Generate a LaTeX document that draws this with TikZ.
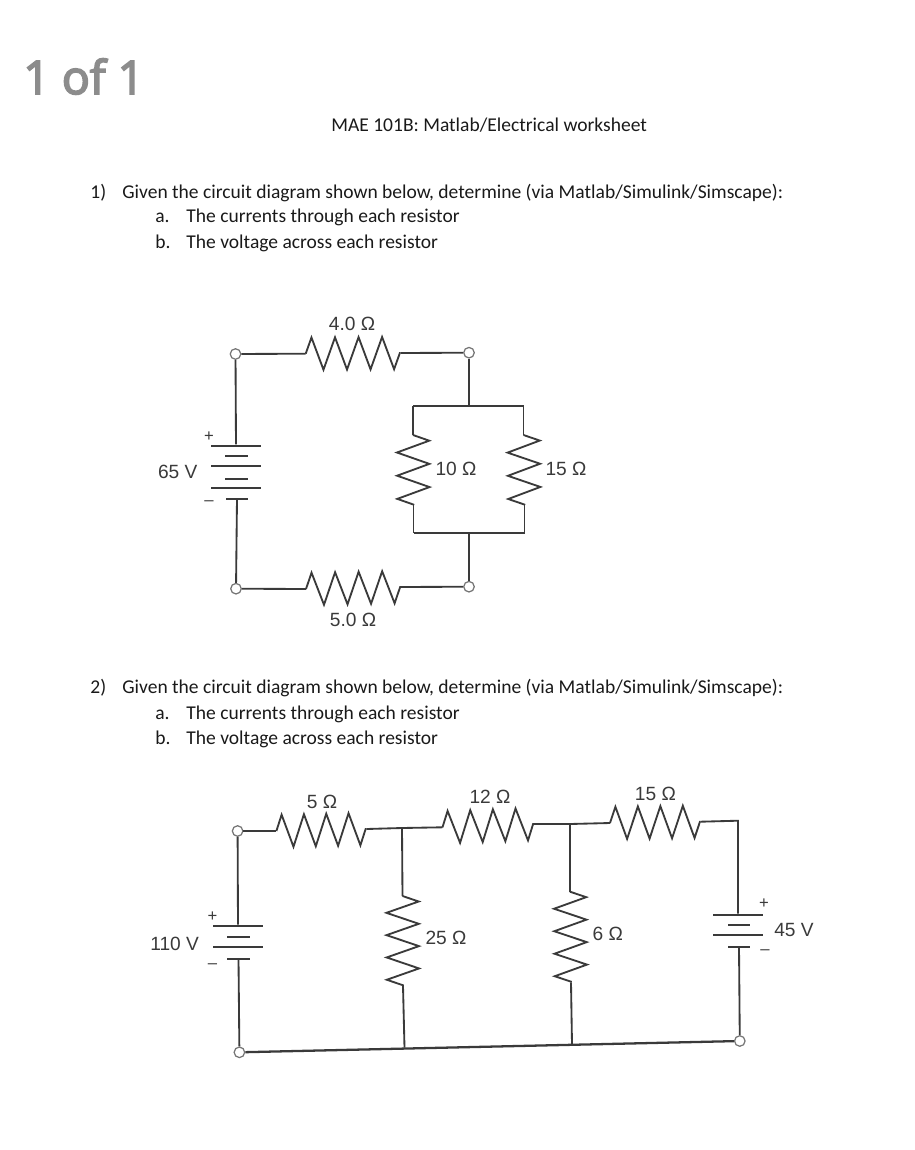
\documentclass[tikz,border=0pt]{standalone}
\usepackage{fontspec}
\setmainfont{Carlito}
\newfontfamily\scanfont{Liberation Sans}
\newfontfamily\pagefont[FakeBold=3.6]{Open Sans}
\usetikzlibrary{decorations.pathmorphing}

\definecolor{inkgray}{HTML}{3A3A3A}
\definecolor{stampgray}{HTML}{8C8C8C}

\tikzset{
  wire/.style={draw=inkgray, line width=1.05pt},
  res/.style={wire, decorate, decoration={zigzag, amplitude=9.2pt, segment length=#1}},
  terminal/.style={draw=inkgray!70, fill=white, circle, inner sep=0pt, minimum size=6pt, line width=0.7pt},
  longplate/.style={fill=inkgray, inner sep=0pt, minimum width=29pt, minimum height=1.2pt},
  shortplate/.style={fill=inkgray, inner sep=0pt, minimum width=13pt, minimum height=1.2pt},
  val/.style={text=inkgray, font=\scanfont\fontsize{10.9pt}{12pt}\selectfont, inner sep=0pt},
  sign/.style={text=inkgray, font=\scanfont\fontsize{9.5pt}{10pt}\selectfont, inner sep=0pt},
  sheet/.style={text=black!90, font=\fontsize{11.12pt}{13pt}\selectfont, inner sep=0pt, anchor=base west}
}

\begin{document}
\begin{tikzpicture}[x=0.02cm, y=-0.02cm]
      \useasboundingbox (0, 0) rectangle (914, 1150);
      % Page text
      \node[text=stampgray, font=\pagefont\fontsize{26.4pt}{30pt}\selectfont, inner sep=0pt, anchor=base west] (stamp) at (23, 94) {1 of 1};
      \node[sheet] (title) at (331, 131.5) {MAE 101B: Matlab/Electrical worksheet};
      \node[sheet] (qa) at (90, 198) {1)};
      \node[sheet] (qatext) at (122, 198) {Given the circuit diagram shown below, determine (via Matlab/Simulink/Simscape):};
      \node[sheet] (qaa) at (155, 222) {a.};
      \node[sheet] (qaatext) at (186, 222) {The currents through each resistor};
      \node[sheet] (qab) at (155, 248) {b.};
      \node[sheet] (qabtext) at (186, 248) {The voltage across each resistor};
      \node[sheet] (qb) at (90, 693) {2)};
      \node[sheet] (qbtext) at (122, 693) {Given the circuit diagram shown below, determine (via Matlab/Simulink/Simscape):};
      \node[sheet] (qba) at (155, 719) {a.};
      \node[sheet] (qbatext) at (186, 719) {The currents through each resistor};
      \node[sheet] (qbb) at (155, 744) {b.};
      \node[sheet] (qbbtext) at (186, 744) {The voltage across each resistor};

      % First circuit: terminals
      \node[terminal] (tl) at (235.5, 354) {};
      \node[terminal] (tr) at (469, 352.7) {};
      \node[terminal] (bl) at (236, 588.7) {};
      \node[terminal] (br) at (469, 586.7) {};
      % First circuit: battery
      \node[longplate] (ba) at (236, 445.7) {};
      \node[shortplate] (bb) at (236.5, 456) {};
      \node[longplate] (bc) at (236, 466) {};
      \node[shortplate] (bd) at (236.5, 478.7) {};
      \node[longplate] (be) at (236, 487.7) {};
      \node[shortplate] (bf) at (237, 498.7) {};
      % First circuit: corners and resistor ends
      \coordinate (ra) at (305.7, 353.7);
      \coordinate (rb) at (400.7, 353);
      \coordinate (rc) at (306, 589);
      \coordinate (rd) at (401, 587);
      \coordinate (pt) at (469, 405.7);
      \coordinate (pb) at (469, 532.7);
      \coordinate (plt) at (413, 405.7);
      \coordinate (prt) at (523.5, 405.7);
      \coordinate (plb) at (413.5, 532.7);
      \coordinate (prb) at (524.5, 532.7);
      \coordinate (lra) at (413, 435);
      \coordinate (lrb) at (413.5, 505);
      \coordinate (rra) at (523.5, 435);
      \coordinate (rrb) at (524.5, 505);
      % First circuit: wires
      \draw[wire] (tl) -- (ra);
      \draw[res=13.4pt] (ra) -- (rb);
      \draw[wire] (rb) -- (tr);
      \draw[wire] (tl) -- (ba);
      \draw[wire] (bf) -- (bl);
      \draw[wire] (bl) -- (rc);
      \draw[res=13.4pt] (rc) -- (rd);
      \draw[wire] (rd) -- (br);
      \draw[wire] (tr) -- (pt);
      \draw[wire] (br) -- (pb);
      \draw[wire] (plt) -- (prt);
      \draw[wire] (plb) -- (prb);
      \draw[wire] (plt) -- (lra);
      \draw[res=13.2pt] (lra) -- (lrb);
      \draw[wire] (lrb) -- (plb);
      \draw[wire] (prt) -- (rra);
      \draw[res=13.2pt] (rra) -- (rrb);
      \draw[wire] (rrb) -- (prb);
      % First circuit: labels
      \node[val] (lra val) at (352, 324) {4.0 Ω};
      \node[val] (lrc val) at (353, 620) {5.0 Ω};
      \node[val] (lrl val) at (456, 469) {10 Ω};
      \node[val] (lrr val) at (566, 468.5) {15 Ω};
      \node[val] (lbat) at (177.7, 471.7) {65 V};
      \node[sign] (bplus) at (209, 436.7) {+};
      \node[sign] (bminus) at (209, 503) {–};

      % Second circuit: terminals
      \node[terminal] (stl) at (237.6, 831) {};
      \node[terminal] (sbl) at (239.4, 1052.3) {};
      \node[terminal] (sbr) at (739.8, 1041) {};
      % Second circuit: batteries
      \node[longplate] (sba) at (238, 926) {};
      \node[shortplate] (sbb) at (238.5, 936.7) {};
      \node[longplate] (sbc) at (238, 947) {};
      \node[shortplate] (sbd) at (238.5, 958.7) {};
      \node[longplate] (sca) at (738, 915) {};
      \node[shortplate] (scb) at (739, 925) {};
      \node[longplate] (scc) at (738, 935) {};
      \node[shortplate] (scd) at (739, 946.7) {};
      % Second circuit: junctions and resistor ends
      \coordinate (sra) at (276.4, 831);
      \coordinate (srb) at (366.6, 829);
      \coordinate (ja) at (402, 828);
      \coordinate (src) at (442.5, 827.3);
      \coordinate (srd) at (534, 824);
      \coordinate (jb) at (570, 824);
      \coordinate (sre) at (610, 823);
      \coordinate (srf) at (700.5, 821.7);
      \coordinate (sc) at (738, 820.7);
      \coordinate (srg) at (402.5, 896);
      \coordinate (srh) at (403, 986);
      \coordinate (jc) at (404.5, 1047.7);
      \coordinate (sri) at (570, 891.7);
      \coordinate (srj) at (571, 982.7);
      \coordinate (jd) at (572, 1044);
      % Second circuit: wires
      \draw[wire] (stl) -- (sra);
      \draw[res=12.7pt] (sra) -- (srb);
      \draw[wire] (srb) -- (ja) -- (src);
      \draw[res=12.9pt] (src) -- (srd);
      \draw[wire] (srd) -- (jb) -- (sre);
      \draw[res=12.8pt] (sre) -- (srf);
      \draw[wire] (srf) -- (sc) -- (sca);
      \draw[wire] (scd) -- (sbr);
      \draw[wire] (stl) -- (sba);
      \draw[wire] (sbd) -- (sbl);
      \draw[wire] (ja) -- (srg);
      \draw[res=12.7pt] (srg) -- (srh);
      \draw[wire] (srh) -- (jc);
      \draw[wire] (jb) -- (sri);
      \draw[res=12.8pt] (sri) -- (srj);
      \draw[wire] (srj) -- (jd);
      \draw[wire, line width=1.3pt] (sbl) -- (sbr);
      % Second circuit: labels
      \node[val] (sra val) at (322, 801.7) {5 Ω};
      \node[val] (src val) at (490, 797) {12 Ω};
      \node[val] (sre val) at (655.4, 794) {15 Ω};
      \node[val] (srg val) at (446, 938) {25 Ω};
      \node[val] (sri val) at (607.7, 934) {6 Ω};
      \node[val] (sbat) at (174.6, 944) {110 V};
      \node[val] (scat) at (794, 930) {45 V};
      \node[sign] (sbplus) at (212.6, 917) {+};
      \node[sign] (sbminus) at (212.6, 965.7) {–};
      \node[sign] (scplus) at (764, 904) {+};
      \node[sign] (scminus) at (765, 952) {–};
    \end{tikzpicture}
\end{document}
